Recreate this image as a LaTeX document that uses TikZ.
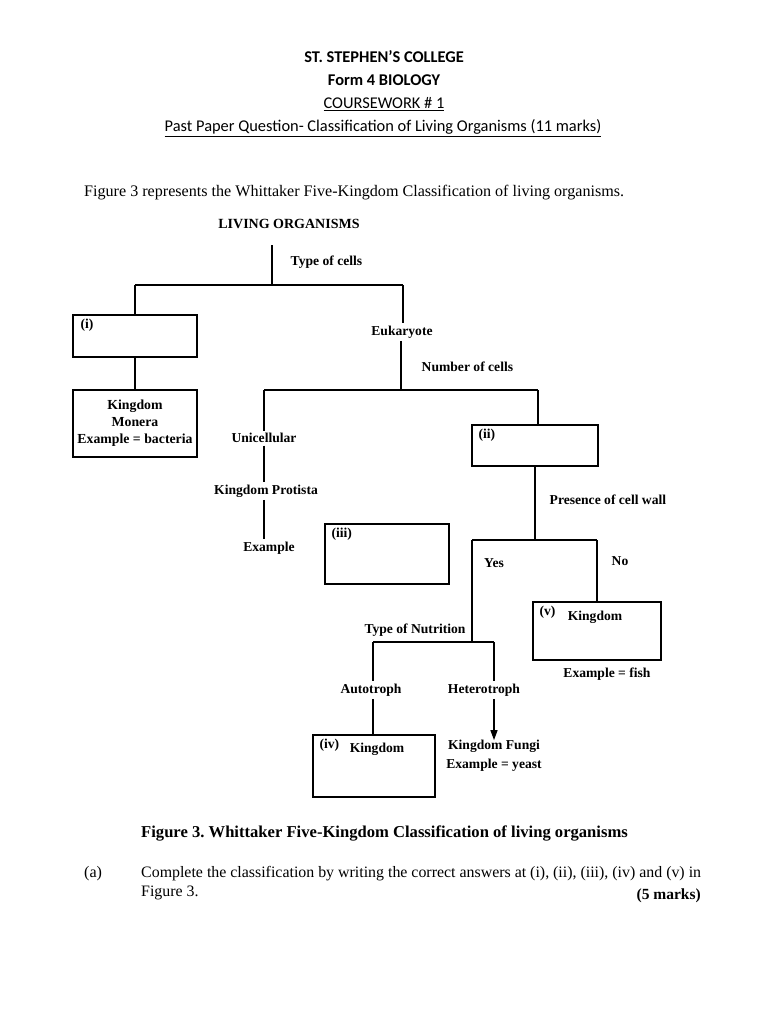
\documentclass[tikz,border=0pt]{standalone}
\usepackage{fontspec}
\setmainfont{Liberation Serif}
\newfontfamily\hdrfont{Carlito}
\usetikzlibrary{arrows.meta}
\frenchspacing
\begin{document}
\begin{tikzpicture}[x=1pt,y=-1pt,
  hd/.style={font=\hdrfont\fontsize{16.4}{18}\selectfont, inner sep=0pt},
  body/.style={font=\fontsize{16.1}{18}\selectfont, inner sep=0pt},
  lbl/.style={font=\fontsize{13.6}{15}\selectfont\bfseries, inner sep=2.5pt},
  box/.style={draw, line width=1.4pt, inner sep=0pt},
  link/.style={line width=1.3pt},
  boxtxt/.style={font=\fontsize{13.6}{15}\selectfont\bfseries, inner sep=0pt}]
\useasboundingbox (0,0) rectangle (768,1024);
\fill[white] (0,0) rectangle (768,1024);

% header
\node[hd, font=\hdrfont\bfseries\fontsize{16.4}{18}\selectfont] (h1) at (384,57) {ST. STEPHEN’S COLLEGE};
\node[hd, font=\hdrfont\bfseries\fontsize{16.4}{18}\selectfont] (h2) at (384,80) {Form 4 BIOLOGY};
\node[hd] (h3) at (384,104) {\underline{COURSEWORK \# 1}};
\node[hd] (h4) at (383,128) {\underline{Past Paper Question- Classification of Living Organisms (11 marks)}};

\node[body, anchor=west] (intro) at (84,193) {Figure 3 represents the Whittaker Five-Kingdom Classification of living organisms.};

% tree
\node[lbl, font=\fontsize{14}{16}\selectfont\bfseries] (living) at (289,224) {LIVING ORGANISMS};
\coordinate (lv) at (272,245);
\coordinate (j1) at (272,285);
\node[lbl, anchor=west] (toc) at (288,262) {Type of cells};
\coordinate (j1l) at (135,285);
\coordinate (j1r) at (403,285);

\node[box, minimum width=124, minimum height=42] (bi) at (135,336) {};
\node[boxtxt, anchor=north west] (ti) at ([shift={(8,5)}]bi.north west) {(i)};
\node[box, minimum width=124, minimum height=67, align=center, boxtxt, font=\fontsize{13.8}{17}\selectfont\bfseries] (mon) at (135,423.5) {Kingdom\\Monera\\Example = bacteria};

\node[lbl] (euk) at (402,332) {Eukaryote};
\node[lbl, anchor=west] (noc) at (419,367) {Number of cells};
\coordinate (j2) at (401,390);
\coordinate (j2l) at (264,390);
\coordinate (j2r) at (538,390);

\node[lbl] (uni) at (264,438) {Unicellular};
\node[lbl] (prot) at (266,491) {Kingdom Protista};
\node[lbl] (exm) at (269,548) {Example};

\node[box, minimum width=126, minimum height=41] (bii) at (535,445.5) {};
\node[boxtxt, anchor=north west] (tii) at ([shift={(7,5)}]bii.north west) {(ii)};
\node[lbl, anchor=west] (pcw) at (547,500) {Presence of cell wall};
\coordinate (j3) at (535,540);
\coordinate (j3l) at (472,540);
\coordinate (j3r) at (597,540);

\node[box, minimum width=124, minimum height=60] (biii) at (387,554) {};
\node[boxtxt, anchor=north west] (tiii) at ([shift={(7,5)}]biii.north west) {(iii)};

\node[lbl] (yes) at (494,563) {Yes};
\node[lbl] (no) at (620,561) {No};

\node[box, minimum width=128, minimum height=58] (bv) at (597,631) {};
\node[boxtxt, anchor=north west] (tv) at ([shift={(7,5)}]bv.north west) {(v)};
\node[boxtxt] (kv) at (595,617) {Kingdom};
\node[lbl] (fish) at (607,674) {Example = fish};

\node[lbl] (ton) at (415,630) {Type of Nutrition};
\coordinate (j4) at (472,642);
\coordinate (j4l) at (373,642);
\coordinate (j4r) at (494,642);

\node[lbl] (aut) at (371,690) {Autotroph};
\node[lbl] (het) at (484,690) {Heterotroph};

\node[box, minimum width=122, minimum height=62] (biv) at (374,766) {};
\node[boxtxt, anchor=north west] (tiv) at ([shift={(7,5)}]biv.north west) {(iv)};
\node[boxtxt] (kiv) at (377,749) {Kingdom};

\node[lbl, align=center, inner sep=0pt, font=\fontsize{13.6}{19}\selectfont\bfseries] (fungi) at (494,756) {Kingdom Fungi\\Example = yeast};

% connectors
\draw[link] (lv) -- (j1);
\draw[link] (j1l) -- (j1r);
\draw[link] (j1l) -- (bi.north);
\draw[link] (bi.south) -- (mon.north);
\draw[link] (j1r) -- (euk.north -| j1r);
\draw[link] (euk.south -| j2) -- (j2);
\draw[link] (j2l) -- (j2r);
\draw[link] (j2l) -- (uni.north);
\draw[link] (uni.south) -- (prot.north -| uni.south);
\draw[link] (prot.south -| uni.south) -- (exm.north -| uni.south);
\draw[link] (j2r) -- (bii.north -| j2r);
\draw[link] (bii.south) -- (j3);
\draw[link] (j3l) -- (j3r);
\draw[link] (j3r) -- (bv.north);
\draw[link] (j3l) -- (j4);
\draw[link] (j4l) -- (j4r);
\draw[link] (j4l) -- (aut.north -| j4l);
\draw[link] (aut.south -| j4l) -- (biv.north -| j4l);
\draw[link] (j4r) -- (het.north -| j4r);
\draw[link, -{Triangle[length=10pt,width=7pt]}] (het.south -| j4r) -- (fungi.north -| j4r);

% caption and question
\node[body, anchor=west, font=\fontsize{16.6}{18}\selectfont\bfseries] (cap) at (141,833) {Figure 3. Whittaker Five-Kingdom Classification of living organisms};
\node[body, anchor=west] (qa) at (84,874) {(a)};
\node[body, anchor=west, font=\fontsize{15.9}{18}\selectfont] (q1) at (141,874) {Complete the classification by writing the correct answers at (i), (ii), (iii), (iv) and (v) in};
\node[body, anchor=west, font=\fontsize{15.9}{18}\selectfont] (q2) at (141,893) {Figure 3.};
\node[body, anchor=east, font=\fontsize{15.5}{18}\selectfont\bfseries] (marks) at (701,896) {(5 marks)};
\end{tikzpicture}
\end{document}
